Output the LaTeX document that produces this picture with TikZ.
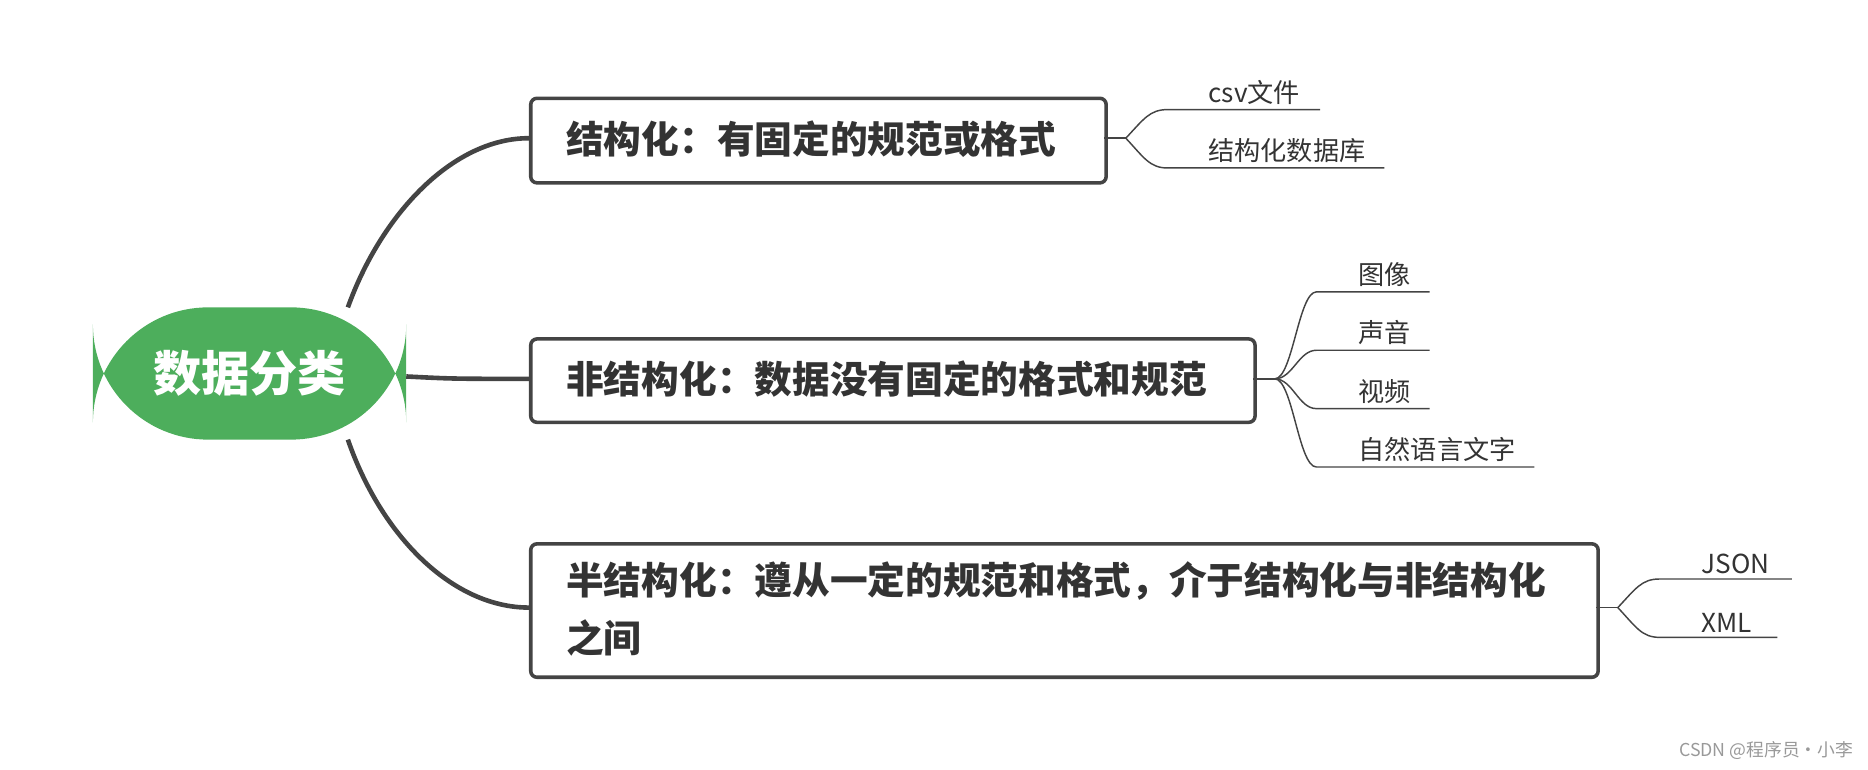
\documentclass[tikz,border=0pt]{standalone}
\usepackage{fontspec}
\setmainfont{Noto Sans CJK SC}
\begin{document}
\begin{tikzpicture}[x=0.02cm,y=-0.02cm,
  every node/.style={inner sep=0pt},
  box/.style={draw=lineg,line width=1.7pt,rounded corners=3pt,anchor=north west},
  main/.style={draw=lineg,line width=2.2pt},
  sub/.style={draw=lineg,line width=0.7pt},
  leaf/.style={font=\fontsize{12.5}{15}\selectfont,text=textg,anchor=south west}]
\definecolor{lineg}{HTML}{444444}
\definecolor{textg}{HTML}{333333}
\definecolor{rootg}{HTML}{4DAE5C}
\useasboundingbox (0,0) rectangle (1568,646);
% root
\node[fill=rootg,rounded corners=55pt,minimum width=263*0.02cm,minimum height=111*0.02cm,text=white,font=\fontsize{23}{28}\selectfont\bfseries] (root) at (209.5,313.5) {数据分类};
% boxes
\node[box,minimum width=483*0.02cm,minimum height=71*0.02cm] (b1) at (444,81) {};
\node[anchor=west,font=\fontsize{18}{22}\selectfont\bfseries,text=textg] (t1) at (475,116.5) {结构化：有固定的规范或格式};
\node[box,minimum width=608*0.02cm,minimum height=70*0.02cm] (b2) at (444,283) {};
\node[anchor=west,font=\fontsize{18}{22}\selectfont\bfseries,text=textg] (t2) at (475,318) {非结构化：数据没有固定的格式和规范};
\node[box,minimum width=896*0.02cm,minimum height=112*0.02cm] (b3) at (444,455) {};
\node[anchor=west,align=left,font=\fontsize{18}{28}\selectfont\bfseries,text=textg] (t3) at (475,511) {半结构化：遵从一定的规范和格式，介于结构化与非结构化\\之间};
% main connectors
\coordinate (r1) at (292,258); \coordinate (r2) at (341,316); \coordinate (r3) at (292,369);
\coordinate (e1) at (444,116); \coordinate (e2) at (444,318); \coordinate (e3) at (444,510);
\draw[main] (r1) .. controls (320,180) and (380,116) .. (e1);
\draw[main] (r2) .. controls (380,318) .. (e2);
\draw[main] (r3) .. controls (320,450) and (380,510) .. (e3);
% box1 children
\coordinate (j1) at (945,116);
\draw[sub] (927,116) -- (j1);
\coordinate (c1a) at (980,92); \coordinate (c1b) at (980,141);
\draw[sub] (j1) .. controls (960,100) and (965,92) .. (c1a) -- (1108,92);
\draw[sub] (j1) .. controls (960,132) and (965,141) .. (c1b) -- (1162,141);
\node[leaf] (l1a) at (1014,88) {csv文件};
\node[leaf] (l1b) at (1014,137) {结构化数据库};
% box2 children
\coordinate (j2) at (1070,318);
\draw[sub] (1052,318) -- (j2);
\foreach \y/\xe/\t/\n in {245/1200/图像/a,294/1200/声音/b,343/1200/视频/c,392/1288/自然语言文字/d}{
  \coordinate (c2\n) at (1105,\y);
  \draw[sub] (j2) .. controls (1085,318) and (1090,\y) .. (c2\n) -- (\xe,\y);
  \node[leaf] (l2\n) at (1140,\y-4) {\t};
}
% box3 children
\coordinate (j3) at (1358,510);
\draw[sub] (1340,510) -- (j3);
\coordinate (c3a) at (1393,486); \coordinate (c3b) at (1393,535);
\draw[sub] (j3) .. controls (1373,494) and (1378,486) .. (c3a) -- (1504,486);
\draw[sub] (j3) .. controls (1373,526) and (1378,535) .. (c3b) -- (1492,535);
\node[leaf] (l3a) at (1428,482) {JSON};
\node[leaf] (l3b) at (1428,531) {XML};
% watermark
\node[anchor=east,text=gray!80,font=\fontsize{8.5}{10}\selectfont] (wm) at (1556,630) {CSDN @程序员·小李};
\end{tikzpicture}
\end{document}
